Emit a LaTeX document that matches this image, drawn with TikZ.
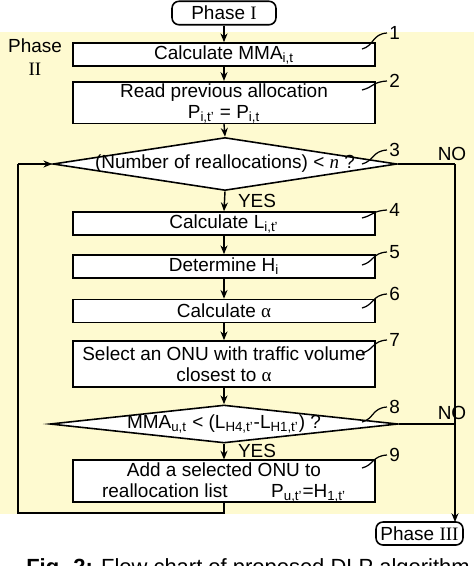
\documentclass[tikz,border=0pt]{standalone}
\usepackage{fontspec}
\setmainfont{Liberation Sans}
\newfontfamily\serif{Liberation Serif}
\usetikzlibrary{arrows.meta,positioning,shapes.geometric,backgrounds}
\definecolor{phasebg}{RGB}{254,250,208}

\begin{document}
\begin{tikzpicture}[
  x=0.02cm, y=-0.02cm,
  font=\fontsize{10.8}{12}\selectfont,
  term/.style={draw, rounded corners=4pt, fill=white, line width=0.9pt,
               minimum height=0.47cm, inner sep=0pt, align=center},
  pstep/.style={draw, fill=white, line width=0.9pt,
                minimum width=6.04cm, minimum height=0.46cm,
                inner sep=0pt, align=center},
  dec/.style={draw, diamond, fill=white, line width=0.9pt,
              inner sep=0pt, aspect=6.5},
  arr/.style={-{Stealth[length=5pt,width=4pt]}, line width=0.8pt},
  back/.style={line width=0.8pt},
  lbl/.style={inner sep=0pt},
  tick/.style={line width=0.7pt},
]
  \useasboundingbox (0,0) rectangle (474,566);

  \def\fc{224}
  \def\lx{18}
  \def\rx{455}

  % Phase II background
  \fill[phasebg] (0,32) rectangle (474,514);
  \node[lbl, align=center] (ph2) at (35,57) {Phase\\[1pt]{\serif II}};

  % Steps

  \node[term, minimum width=2.08cm] (ph1) at (\fc,13) {Phase {\serif I}};

  \node[pstep] (calcmma) at (\fc,54.5) {Calculate MMA\textsubscript{i,t}};
  \node[pstep, minimum height=0.74cm] (readp) at (\fc,102.5)
    {\rule{0pt}{9pt}Read previous allocation\\P\textsubscript{i,t'} = P\textsubscript{i,t}};
  \node[dec, minimum width=6.88cm, minimum height=1.06cm,
        label=center:{(Number of reallocations) < {\serif\itshape n} ?}]
        (nre) at (225,164) {};
  \node[pstep] (calcl) at (\fc,223.5) {Calculate L\textsubscript{i,t'}};
  \node[pstep] (deth)  at (\fc,266.5) {Determine H\textsubscript{i}};
  \node[pstep] (calca) at (\fc,311)   {Calculate {\serif α}};
  \node[pstep, minimum height=0.92cm] (sel) at (\fc,364)
    {Select an ONU with traffic volume\\closest to {\serif α}};
  \node[dec, minimum width=6.96cm, minimum height=0.76cm,
        label=center:{MMA\textsubscript{u,t} < (L\textsubscript{H4,t'}-L\textsubscript{H1,t'}) ?}]
        (cmp) at (\fc,424) {};
  \node[pstep, minimum height=0.76cm] (add) at (\fc,481)
    {\rule{0pt}{9pt}Add a selected ONU to\\reallocation list\hspace{2.3em}P\textsubscript{u,t'}=H\textsubscript{1,t'}};

  \node[term, minimum width=1.74cm, minimum height=0.46cm] (ph3) at (419.5,533.5)
    {Phase {\serif III}};

  % Step numbers
  \foreach \ys/\yl/\n in {49/33/1, 90/81/2, 164/150/3, 218/210/4, 265/252/5,
                          308/294/6, 353/340/7, 422/407/8, 468/455/9} {
    \draw[tick] (362,\ys) .. controls (374,\ys-3) and (372,\yl+1) .. (387,\yl);
    \node[lbl, anchor=west] (n\n) at (389,\yl) {\n};
  }

  % Arrows

  \draw[arr] (ph1.south)     -- (calcmma.north);
  \draw[arr] (calcmma.south) -- (readp.north);
  \draw[arr] (readp.south)   -- (nre.north);
  \draw[arr] (nre.south)     -- (calcl.north);
  \node[lbl] (yes1) at (257,201) {YES};
  \draw[arr] (calcl.south)   -- (deth.north);
  \draw[arr] (deth.south)    -- (calca.north);
  \draw[arr] (calca.south)   -- (sel.north);
  \draw[arr] (sel.south)     -- (cmp.north);
  \draw[arr] (cmp.south)     -- (add.north);
  \node[lbl] (yes2) at (257,451) {YES};

  % NO branches to Phase III
  \coordinate (no1) at (\rx,164);
  \coordinate (no2) at (\rx,424);
  \coordinate (in3) at (\rx,522);
  \draw[back] (nre.east) -- (no1);
  \draw[arr]  (no1) -- (in3);
  \node[lbl] (nolbl1) at (452,154) {NO};
  \draw[back] (cmp.east) -- (no2);
  \node[lbl] (nolbl2) at (452,413) {NO};

  % Loop back
  \coordinate (lpb) at (\fc,513);
  \coordinate (lpl) at (\lx,513);
  \coordinate (lpt) at (\lx,164);
  \draw[back] (add.south) -- (lpb) -- (lpl) -- (lpt);
  \draw[arr]  (lpt) -- (nre.west);

  % Caption (cut at the page edge)
  \node[font=\fontsize{12.5}{14}\selectfont, anchor=base] (cap) at (248,574)
    {\textbf{Fig. 2:} Flow chart of proposed DLP algorithm};

\end{tikzpicture}
\end{document}
